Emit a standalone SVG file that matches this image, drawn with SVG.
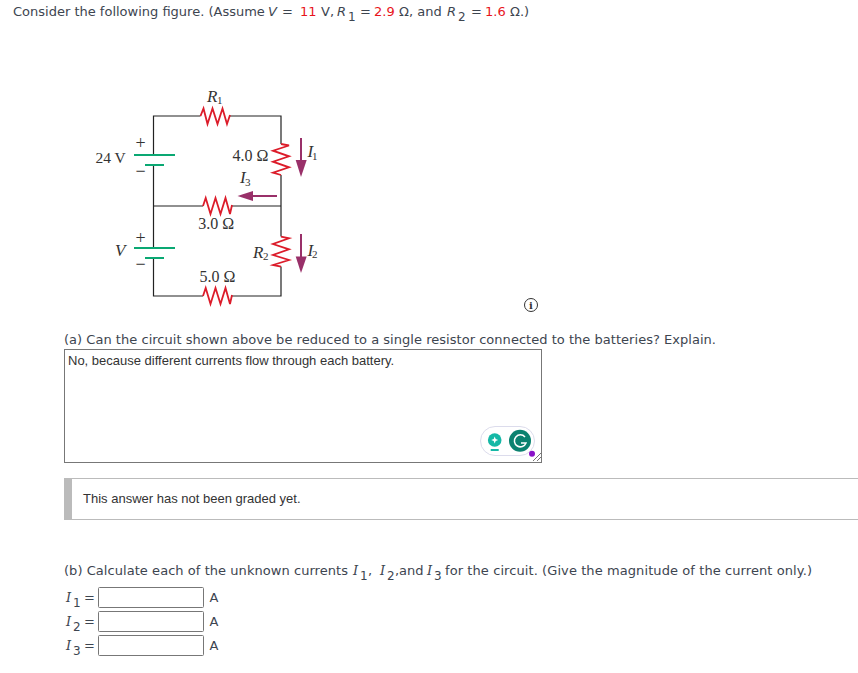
<svg xmlns="http://www.w3.org/2000/svg" width="858" height="673" viewBox="0 0 858 673">
<style>
.t{font-family:"DejaVu Sans",Verdana,sans-serif;font-size:13px;fill:#3d4550}
.s{font-family:"DejaVu Sans",Verdana,sans-serif;font-size:12px;fill:#3d4550}
.m{font-family:"DejaVu Serif",Georgia,serif;font-size:13px;font-style:italic;fill:#3d4550}
.v{font-family:"DejaVu Sans",Verdana,sans-serif;font-size:13px;font-style:italic;fill:#3d4550}
.r{fill:#e8141c}
.c{font-family:"Liberation Serif",serif;font-size:16px;fill:#333}
.ci{font-family:"Liberation Serif",serif;font-size:17px;font-style:italic;fill:#333}
.cs{font-family:"Liberation Serif",serif;font-size:11px;fill:#333}
.p{font-family:"Liberation Serif",serif;font-size:18px;fill:#333}
.h{font-family:"Liberation Sans",Arial,sans-serif;font-size:13px;fill:#333}
.w{fill:none;stroke:#222;stroke-width:1.2}
.z{fill:none;stroke:#dc1c2a;stroke-width:1.8}
.b{stroke:#0aa873;stroke-width:2}
.a{fill:none;stroke:#993069;stroke-width:2}
.ah{fill:#993069}
.box{fill:#fff;stroke:#777;stroke-width:1}
</style>
<rect width="858" height="673" fill="#fff"/>
<g id="prompt">
<text class="t" x="13" y="16">Consider the following figure. (Assume</text>
<text class="v" x="268" y="16">V</text><text class="t" x="282" y="16">=</text>
<text class="t r" x="300" y="16">11</text><text class="t" x="321" y="16">V,</text>
<text class="v" x="337" y="16">R</text><text class="s" x="348" y="21">1</text>
<text class="t" x="360" y="16">=</text><text class="t r" x="374" y="16">2.9</text>
<text class="t" x="399" y="16">Ω, and</text>
<text class="v" x="447" y="16">R</text><text class="s" x="458" y="21">2</text>
<text class="t" x="471" y="16">=</text><text class="t r" x="485" y="16">1.6</text>
<text class="t" x="510" y="16">Ω.)</text>
</g>
<g id="connectors">
<path class="w" d="M153.500 155V116H200.500M230 116H281V144M281 175V236.500M281 266.500V296H232M203 296H153.500V258M153.500 248V165M153.500 206H203M232 206H281"/>
<path class="a" d="M301 138V162"/><path class="ah" d="M295.700 160H306.700L301 177Z"/>
<path class="a" d="M277 196H252"/><path class="ah" d="M253 191V201L237.500 196Z"/>
<path class="a" d="M301 234V258"/><path class="ah" d="M295.700 256.500H306.700L301 273Z"/>
</g>
<g id="battery-24v">
<path class="b" d="M134 155H175M145 165H164"/>
<text class="p" x="135.500" y="149">+</text><text class="p" x="135.500" y="177">−</text>
<text class="c" x="95.500" y="163" style="font-size:15.500px">24 V</text>
</g>
<g id="battery-v">
<path class="b" d="M134 248H175M145 258H164"/>
<text class="p" x="135.500" y="244">+</text><text class="p" x="135.500" y="270">−</text>
<text class="ci" x="115" y="256">V</text>
</g>
<g id="r1">
<path class="z" d="M200.500 116L203.500 108.500L207.500 124L212.500 108.500L217.500 124L222.500 108.500L227 124L230 115"/>
<text class="ci" x="207" y="101.500">R</text><text class="cs" x="217" y="104">1</text>
</g>
<g id="r-4ohm">
<path class="z" d="M281 144L289 145.500L273 150.700L289 156.300L273 161.700L289 167.300L273 172.700L281 175"/>
<text class="c" x="232.500" y="160.700">4.0 Ω</text>
<text class="ci" x="240" y="183">I</text><text class="cs" x="245" y="186">3</text>
<text class="ci" x="307.500" y="157">I</text><text class="cs" x="312" y="160">1</text>
</g>
<g id="r-3ohm">
<path class="z" d="M203 206L205.700 198L210.500 214L215.500 198L220.500 214L225.500 198L230 214L232 205"/>
<text class="c" x="198.300" y="229">3.0 Ω</text>
</g>
<g id="r2">
<path class="z" d="M281 236.700L289 238.300L273 244L289 249.300L273 255L289 260L273 265L281 266.700"/>
<text class="ci" x="253" y="257.700">R</text><text class="cs" x="263" y="260">2</text>
<text class="ci" x="307.500" y="255.700">I</text><text class="cs" x="312" y="258">2</text>
</g>
<g id="r-5ohm">
<path class="z" d="M203 296L205.700 288L210.500 304L215.500 288L220.500 304L225.500 288L230 304L232 295"/>
<text class="c" x="199.500" y="281.700">5.0 Ω</text>
</g>
<g id="info"><circle cx="531" cy="305" r="6.500" fill="none" stroke="#333"/><text x="531" y="309" text-anchor="middle" style="font-family:'DejaVu Serif',serif;font-size:10px;font-weight:bold" fill="#333">i</text></g>
<text class="t" x="64" y="344" textLength="652">(a) Can the circuit shown above be reduced to a single resistor connected to the batteries? Explain.</text>
<rect class="box" x="64.500" y="349.500" width="477" height="113"/>
<text class="h" x="68" y="365">No, because different currents flow through each battery.</text>
<g id="grammarly">
<rect x="480.500" y="426.500" width="54" height="29" rx="14.500" fill="#fff" stroke="#dcdcec"/>
<circle cx="494.700" cy="440" r="6.800" fill="#15b8a6"/><path d="M494.700 436.500l1 2.500 2.500 1-2.500 1-1 2.500-1-2.500-2.500-1 2.500-1z" fill="#fff"/><rect x="490.700" y="449" width="8" height="2" fill="#15b8a6"/>
<circle cx="520" cy="440.700" r="11" fill="#0b8270"/><path d="M525 437A6 6 0 1 0 526 443H521" fill="none" stroke="#fff" stroke-width="1.500"/>
<circle cx="532" cy="453.700" r="3" fill="#8a12c8"/>
<path d="M533 461L541 453M537 461L541 457" stroke="#777" fill="none"/>
</g>
<g id="grading">
<path d="M72 478.500H858M72 519.500H858" stroke="#bbb" stroke-width="1"/>
<rect x="64" y="478" width="8" height="42" fill="#bbb"/>
<text class="h" x="83" y="503">This answer has not been graded yet.</text>
</g>
<g id="part-b">
<text class="t" x="64" y="575" textLength="284">(b) Calculate each of the unknown currents</text>
<text class="m" x="353" y="575">I</text><text class="s" x="360" y="580">1</text><text class="t" x="368" y="575">,</text>
<text class="m" x="380" y="575">I</text><text class="s" x="387" y="580">2</text><text class="t" x="395" y="575">,</text>
<text class="t" x="399" y="575">and</text>
<text class="m" x="427" y="575">I</text><text class="s" x="434" y="580">3</text>
<text class="t" x="445" y="575" textLength="367">for the circuit. (Give the magnitude of the current only.)</text>
</g>
<g id="answers">
<text class="m" x="66" y="602">I</text><text class="s" x="73" y="607">1</text><text class="t" x="84" y="602">=</text>
<rect class="box" x="98.500" y="587.500" width="105" height="20" rx="1"/><text class="t" x="209.500" y="602">A</text>
<text class="m" x="66" y="626">I</text><text class="s" x="73" y="631">2</text><text class="t" x="84" y="626">=</text>
<rect class="box" x="98.500" y="611.500" width="105" height="20" rx="1"/><text class="t" x="209.500" y="626">A</text>
<text class="m" x="66" y="650">I</text><text class="s" x="73" y="655">3</text><text class="t" x="84" y="650">=</text>
<rect class="box" x="98.500" y="635.500" width="105" height="20" rx="1"/><text class="t" x="209.500" y="650">A</text>
</g>
</svg>
